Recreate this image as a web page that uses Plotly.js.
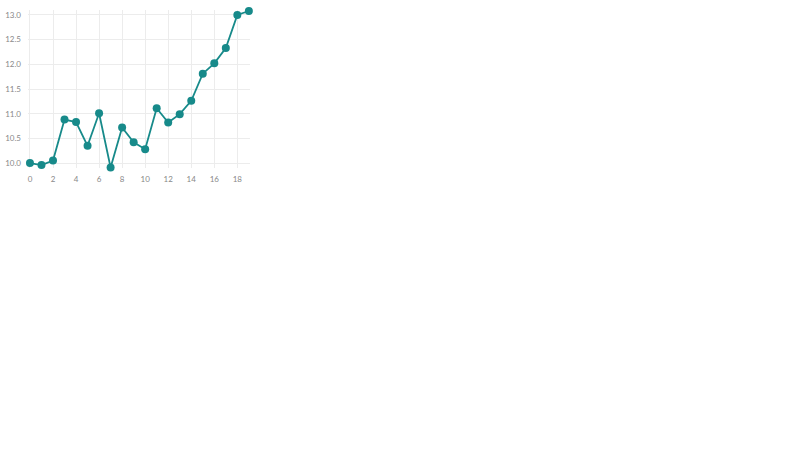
<!DOCTYPE html>
<html><head><meta charset="utf-8">
<script src="https://cdn.plot.ly/plotly-3.0.1.min.js"></script>
<style>body{margin:0;padding:0;background:#fff}#chart{width:800px;height:450px}</style>
</head><body><div id="chart"></div>
<script>
var xValues = [0,1,2,3,4,5,6,7,8,9,10,11,12,13,14,15,16,17,18,19];
var yValues = [10.0,9.96,10.05,10.88,10.83,10.35,11.01,9.91,10.72,10.42,10.28,11.11,10.82,10.99,11.26,11.81,12.02,12.33,13.0,13.08];
var yTicks = [10.0,10.5,11.0,11.5,12.0,12.5,13.0];
var yTickText = ['10.0','10.5','11.0','11.5','12.0','12.5','13.0'];
var xTicks = [0,2,4,6,8,10,12,14,16,18];

var trace = {
  x: xValues, y: yValues, type: 'scatter', mode: 'lines+markers',
  line: {color: '#178a8a', width: 1.8},
  marker: {color: '#178a8a', size: 8},
  cliponaxis: false, hoverinfo: 'none'
};
var layout = {
  width: 800, height: 450,
  margin: {l: 28, r: 550, t: 10, b: 282},
  paper_bgcolor: '#fff', plot_bgcolor: '#fff',
  showlegend: false,
  font: {family: 'Lato, "Open Sans", sans-serif', size: 8, color: '#888'},
  xaxis: {range: [-0.17, 19.1], tickvals: xTicks, ticktext: xTicks.map(String),
    showgrid: true, gridcolor: '#ececec', gridwidth: 1, zeroline: false,
    showline: false, ticks: '', ticklabelstandoff: 5},
  yaxis: {range: [9.9, 13.1], tickvals: yTicks, ticktext: yTickText,
    showgrid: true, gridcolor: '#ececec', gridwidth: 1, zeroline: false,
    showline: false, ticks: '', ticklabelstandoff: 6}
};
Plotly.newPlot('chart', [trace], layout, {displayModeBar: false, staticPlot: true});
</script></body></html>
